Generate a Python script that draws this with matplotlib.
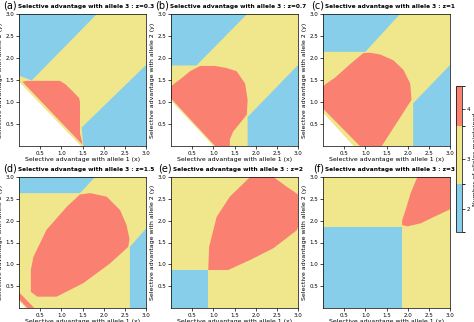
import numpy as np
import matplotlib
matplotlib.use("Agg")
import matplotlib.pyplot as plt
from matplotlib.colors import ListedColormap, BoundaryNorm
from matplotlib.cm import ScalarMappable

BLUE = "#87ceeb"
YELLOW = "#f0e68c"
RED = "#fa8072"

LETTERS = ["(a)", "(b)", "(c)", "(d)", "(e)", "(f)"]
Z_VALUES = ["0.3", "0.7", "1", "1.5", "2", "3"]

# region outlines, (x, y) in data units
BLUE_REGIONS = [
    [[(0, 3), (1.84, 3), (0.3, 1.49), (0, 1.6)],
     [(1.52, 0), (3, 0), (3, 1.84), (1.48, 0.42)]],
    [[(0, 3), (1.8, 3), (0.6, 1.83), (0, 1.83)],
     [(1.81, 0), (3, 0), (3, 1.84), (1.81, 0.66)]],
    [[(0, 3), (1.82, 3), (1.0, 2.14), (0, 2.14)],
     [(2.13, 0), (3, 0), (3, 1.84), (2.13, 0.97)]],
    [[(0, 3), (1.8, 3), (1.44, 2.63), (0, 2.63)],
     [(2.62, 0), (3, 0), (3, 1.82), (2.62, 1.4)]],
    [[(0, 0), (0.87, 0), (0.87, 0.88), (0, 0.88)]],
    [[(0, 0), (1.86, 0), (1.86, 1.85), (0, 1.85)]],
]

RED_REGIONS = [
    [[(0.08, 1.46), (0.18, 1.48), (0.97, 1.48), (1.1, 1.4), (1.24, 1.27),
      (1.42, 1.09), (1.44, 1.0), (1.44, 0.29), (1.5, 0.05), (1.48, 0.05)]],
    [[(0, 1.08), (1.04, 0), (1.39, 0), (1.39, 0.15), (1.47, 0.33), (1.63, 0.52),
      (1.79, 0.71), (1.81, 1.05), (1.75, 1.42), (1.55, 1.7), (1.32, 1.77),
      (1.04, 1.82), (0.69, 1.82), (0.45, 1.7), (0.21, 1.51), (0, 1.36)]],
    [[(0, 0.85), (0.87, 0), (1.39, 0), (2.09, 1.05), (2.06, 1.42), (1.9, 1.73),
      (1.66, 1.95), (1.35, 2.08), (1.11, 2.12), (0.95, 2.11), (0.64, 1.86),
      (0.28, 1.55), (0.05, 1.4), (0, 1.34)]],
    [[(0.28, 0.37), (0.43, 0.26), (0.89, 0.26), (1.52, 0.57), (2.15, 1.02),
      (2.58, 1.4), (2.61, 1.58), (2.54, 1.9), (2.39, 2.24), (2.07, 2.55),
      (1.68, 2.63), (1.44, 2.6), (1.13, 2.32), (0.65, 1.79), (0.34, 1.17),
      (0.28, 0.87)],
     [(0, 0.2), (0.2, 0), (0.36, 0), (0, 0.36)]],
    [[(0.88, 0.87), (1.35, 0.87), (1.87, 1.1), (2.42, 1.37), (2.97, 1.78),
      (3, 1.85), (3, 2.6), (2.73, 2.78), (2.42, 3), (1.87, 3), (1.39, 2.55),
      (1.08, 2.09), (0.9, 1.4)]],
    [[(1.87, 1.9), (2.0, 1.87), (2.31, 1.94), (2.63, 2.09), (3, 2.26), (3, 3),
      (2.23, 3), (2.07, 2.63), (1.95, 2.24), (1.87, 2.01)]],
]

WHITE_REGIONS = [
    [(0, 0), (1.46, 0), (0, 1.46)],
    [(0, 0), (1.0, 0), (0, 1.03)],
    [(0, 0), (0.72, 0), (0, 0.76)],
    [(0, 0), (0.15, 0), (0, 0.16)],
    None,
    None,
]

fig = plt.figure(figsize=(4.74, 3.22), dpi=100)

lefts = [19, 171, 323]
rows = [(14, 146), (177, 308)]
W, H = 474, 322

for i in range(6):
    r, c = divmod(i, 3)
    top, bot = rows[r]
    ax = fig.add_axes([lefts[c] / W, (H - bot) / H, 127 / W, (bot - top) / H])
    ax.set_facecolor(YELLOW)
    for poly in BLUE_REGIONS[i]:
        xs, ys = zip(*poly)
        ax.fill(xs, ys, color=BLUE, lw=0)
    for poly in RED_REGIONS[i]:
        xs, ys = zip(*poly)
        ax.fill(xs, ys, color=RED, lw=0)
    if WHITE_REGIONS[i] is not None:
        xs, ys = zip(*WHITE_REGIONS[i])
        ax.fill(xs, ys, color="white", lw=0)
    ax.set_xlim(0, 3)
    ax.set_ylim(0, 3)
    ax.set_xticks([0.5, 1.0, 1.5, 2.0, 2.5, 3.0])
    ax.set_yticks([0.5, 1.0, 1.5, 2.0, 2.5, 3.0])
    ax.tick_params(labelsize=4, length=2, width=0.5, pad=1.5)
    ax.set_xlabel("Selective advantage with allele 1 (x)", fontsize=4.5, labelpad=1)
    ax.set_ylabel("Selective advantage with allele 2 (y)", fontsize=4.5, labelpad=2)
    for s in ax.spines.values():
        s.set_linewidth(0.5)
    t = ax.set_title("Selective advantage with allele 3 : z=" + Z_VALUES[i],
                     fontsize=4.2, fontweight="bold", pad=4, x=0.53)
    ax.annotate(LETTERS[i], xy=(0, 0.15), xycoords=t, ha="right", va="baseline",
                fontsize=7, xytext=(-1, 0), textcoords="offset points")

cmap = ListedColormap([BLUE, YELLOW, RED])
norm = BoundaryNorm([1.55, 2.5, 3.65, 4.45], cmap.N)
cax = fig.add_axes([456 / W, (H - 232) / H, 6 / W, 146 / H])
cb = fig.colorbar(ScalarMappable(norm=norm, cmap=cmap), cax=cax, ticks=[2, 3, 4],
                  spacing="proportional")
cb.ax.tick_params(labelsize=4, length=2, width=0.5, pad=1.5)
cb.outline.set_linewidth(0.5)
cb.set_label("Number of alleles maintained", fontsize=4.5, labelpad=2)

fig.savefig("out.png", dpi=100)
